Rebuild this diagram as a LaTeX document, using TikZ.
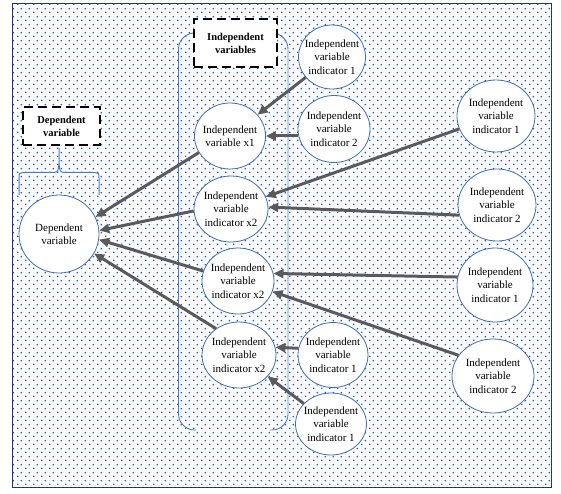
\documentclass[tikz,border=0pt]{standalone}
\usepackage{fontspec}
\setmainfont{Liberation Serif}
\usetikzlibrary{positioning,arrows.meta,shapes.geometric,patterns.meta}
\definecolor{framenavy}{HTML}{1F3864}
\definecolor{dotblue}{HTML}{1F55E0}
\definecolor{ringblue}{HTML}{3D6DB5}
\definecolor{bracketblue}{HTML}{4A78C8}
\definecolor{arrowgray}{HTML}{5A5A5A}
\tikzdeclarepattern{
  name=bgdots,
  type=uncolored,
  bottom left={(0pt,0pt)},
  top right={(8pt,8pt)},
  tile size={(8pt,8pt)},
  code={
    \pgfpathrectangle{\pgfqpoint{1.2pt}{1.2pt}}{\pgfqpoint{1.6pt}{1.6pt}}
    \pgfpathrectangle{\pgfqpoint{5.2pt}{5.2pt}}{\pgfqpoint{1.6pt}{1.6pt}}
    \pgfusepath{fill}
  }
}
\tikzset{
  varnode/.style={ellipse, draw=ringblue, line width=0.8pt, fill=white, align=center,
    inner xsep=-4pt, inner ysep=0pt, font=\fontsize{11}{13.5}\selectfont},
  tagbox/.style={draw=black, line width=2.8pt, dash pattern=on 9pt off 5pt, fill=white,
    align=center, inner sep=0pt, font=\bfseries\fontsize{10.5}{13}\selectfont},
  feed/.style={draw=arrowgray, line width=3pt, -{Triangle[length=10pt,width=9pt]}}
}
\begin{document}
\begin{tikzpicture}[x=1pt,y=-1pt]
\useasboundingbox (0,0) rectangle (561,494);
\fill [pattern=bgdots, pattern color=dotblue] (12.5,3.5) rectangle (551.5,487.5);
\draw [framenavy, line width=1.5pt] (12.5,3.5) rectangle (551.5,487.5);

\draw [bracketblue, line width=0.9pt, rounded corners=16pt] (196,33) -- (178.5,33) -- (178.5,430) -- (196,430);
\draw [bracketblue, line width=0.9pt, rounded corners=16pt] (270,33) -- (288,33) -- (288,430) -- (270,430);
\draw [bracketblue, line width=1pt] (19,195) -- (19,178) .. controls (19,173) .. (25,172.5) -- (53,172.5)
  .. controls (58,172) .. (59,164) -- (59,148);
\draw [bracketblue, line width=1pt] (99,195) -- (99,178) .. controls (99,173) .. (93,172.5) -- (65,172.5)
  .. controls (60,172) .. (59,164);

\node [tagbox, minimum width=77pt, minimum height=38pt] (deptag) at (61.5,126) {Dependent\\variable};
\node [tagbox, minimum width=83pt, minimum height=48pt] (indtag) at (235.5,43) {Independent\\variables};

\node [varnode, minimum width=80pt, minimum height=78pt] (dep) at (59,234) {Dependent\\variable};
\node [varnode, minimum width=71pt, minimum height=66pt] (x1) at (230,136) {Independent\\variable x1};
\node [varnode, minimum width=74pt, minimum height=66pt] (xa) at (231,209) {Independent\\variable\\indicator x2};
\node [varnode, minimum width=72pt, minimum height=66pt] (xb) at (238,281) {Independent\\variable\\indicator x2};
\node [varnode, minimum width=74pt, minimum height=66pt] (xc) at (239,355) {Independent\\variable\\indicator x2};

\node [varnode, minimum width=67pt, minimum height=64pt] (ind1) at (332,57) {Independent\\variable\\indicator 1};
\node [varnode, minimum width=72pt, minimum height=67pt] (ind2) at (334,129) {Independent\\variable\\indicator 2};
\node [varnode, minimum width=78pt, minimum height=72pt] (ind3) at (496,116) {Independent\\variable\\indicator 1};
\node [varnode, minimum width=78pt, minimum height=72pt] (ind4) at (497,205) {Independent\\variable\\indicator 2};
\node [varnode, minimum width=76pt, minimum height=74pt] (ind5) at (495,285) {Independent\\variable\\indicator 1};
\node [varnode, minimum width=82pt, minimum height=74pt] (ind6) at (493,376) {Independent\\variable\\indicator 2};
\node [varnode, minimum width=70pt, minimum height=65pt] (ind7) at (333,355) {Independent\\variable\\indicator 1};
\node [varnode, minimum width=71pt, minimum height=62pt] (ind8) at (331,424) {Independent\\variable\\indicator 1};

\draw [feed] (ind1) -- (x1);
\draw [feed] ([yshift=-7pt]ind2.west) -- (x1.east);
\draw [feed] (ind3) -- (xa);
\draw [feed] (ind4.195) -- (xa.3);
\draw [feed] (ind5.168) -- (xb.12);
\draw [feed] (ind6.149) -- (xb.343);
\draw [feed] (ind7.169) -- (xc.12);
\draw [feed] (ind8) -- (xc);

\draw [feed] (x1.208) -- (dep.25);
\draw [feed] (xa.183) -- (dep.5);
\draw [feed] (xb.164) -- (dep.-8);
\draw [feed] (xc.131) -- (dep.-29);
\end{tikzpicture}
\end{document}
